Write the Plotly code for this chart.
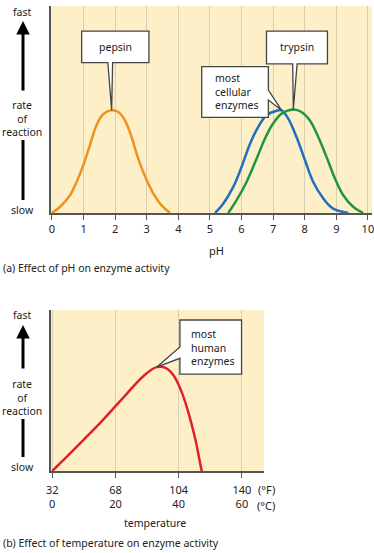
import plotly.graph_objects as go

# ---------------- data ----------------
pepsin_ph   = [0.0, 0.25, 0.57, 0.78, 0.99, 1.20, 1.41, 1.62, 1.89, 2.10, 2.31, 2.52, 2.73, 3.00, 3.21, 3.47, 3.74]
pepsin_rate = [0.0, 0.029, 0.085, 0.150, 0.230, 0.327, 0.424, 0.477, 0.496, 0.488, 0.448, 0.367, 0.263, 0.158, 0.094, 0.037, 0.0]

cell_ph   = [5.16, 5.42, 5.74, 6.00, 6.27, 6.53, 6.79, 7.11, 7.27, 7.48, 7.74, 8.01, 8.27, 8.59, 8.90, 9.38]
cell_rate = [0.0, 0.045, 0.126, 0.222, 0.335, 0.416, 0.472, 0.494, 0.496, 0.456, 0.367, 0.255, 0.150, 0.070, 0.021, 0.0]

trypsin_ph   = [5.58, 5.84, 6.16, 6.48, 6.74, 7.00, 7.27, 7.64, 7.90, 8.16, 8.43, 8.69, 8.96, 9.22, 9.54, 9.85]
trypsin_rate = [0.0, 0.061, 0.150, 0.263, 0.359, 0.432, 0.480, 0.500, 0.488, 0.448, 0.367, 0.271, 0.166, 0.086, 0.029, 0.0]

temp_c    = [0, 4.55, 9.82, 15.1, 19.8, 23.5, 26.7, 29.9, 33.0, 35.7, 38.3, 40.9, 43.0, 45.2, 46.7, 47.3]
temp_rate = [0.0, 0.088, 0.192, 0.298, 0.398, 0.478, 0.548, 0.607, 0.645, 0.642, 0.596, 0.493, 0.369, 0.203, 0.058, 0.0]

ph_ticks = list(range(0, 11))
temp_ticks_c = [0, 20, 40, 60]
temp_ticks_f = [32, 68, 104, 140]

W, H = 374, 553
FONT = "Noto Sans"
AX = "#555555"
GRID = "#d9cfb3"
BG = "#fdf0c9"

def px(x):
    return x / W

def py(y):
    return 1 - y / H

fig = go.Figure()
fig.add_trace(go.Scatter(x=pepsin_ph, y=pepsin_rate, mode="lines", line=dict(color="#f0901e", width=2.5, shape="spline"), xaxis="x", yaxis="y"))
fig.add_trace(go.Scatter(x=cell_ph, y=cell_rate, mode="lines", line=dict(color="#1f6fc0", width=2.5, shape="spline"), xaxis="x", yaxis="y"))
fig.add_trace(go.Scatter(x=trypsin_ph, y=trypsin_rate, mode="lines", line=dict(color="#1e9640", width=2.5, shape="spline"), xaxis="x", yaxis="y"))
fig.add_trace(go.Scatter(x=temp_c, y=temp_rate, mode="lines", line=dict(color="#e2202a", width=2.5, shape="spline"), xaxis="x2", yaxis="y2"))

axis_common = dict(showline=True, linecolor=AX, linewidth=1.5, ticks="outside", ticklen=5,
                   tickcolor=AX, tickwidth=1.2, showgrid=True, gridcolor=GRID, gridwidth=1,
                   zeroline=False, ticklabeloverflow="allow", automargin=False,
                   tickfont=dict(family=FONT, size=11, color="#222"))
yaxis_common = dict(showline=True, linecolor=AX, linewidth=1.5, showticklabels=False, ticks="",
                    showgrid=False, zeroline=False, range=[0, 1], automargin=False)

fig.update_layout(
    width=W, height=H, margin=dict(l=0, r=0, t=0, b=0, autoexpand=False),
    paper_bgcolor="white", plot_bgcolor=BG, showlegend=False,
    font=dict(family=FONT, size=10.5, color="#222"),
    xaxis=dict(domain=[px(51), px(372)], range=[-0.03, 10.13], tickvals=ph_ticks,
               ticktext=[str(t) for t in ph_ticks], anchor="y", **axis_common),
    yaxis=dict(domain=[py(213), py(6)], anchor="x", **yaxis_common),
    xaxis2=dict(domain=[px(51), px(264)], range=[-0.4, 67.0], tickvals=temp_ticks_c,
                ticktext=[f"{f}<br>{c}" for f, c in zip(temp_ticks_f, temp_ticks_c)],
                ticklabelstandoff=3, anchor="y2", **axis_common),
    yaxis2=dict(domain=[py(471), py(310)], anchor="x2", **yaxis_common),
)

shapes = []
ann = []

def bubble(xref, yref, x0, x1, y0, y1, tail, apex):
    side, a, b = tail
    ax_, ay_ = apex
    if side == "bottom":
        p = f"M{x0},{y0} L{x1},{y0} L{x1},{y1} L{b},{y1} L{ax_},{ay_} L{a},{y1} L{x0},{y1} Z"
    elif side == "right":
        p = f"M{x0},{y0} L{x1},{y0} L{x1},{a} L{ax_},{ay_} L{x1},{b} L{x1},{y1} L{x0},{y1} Z"
    else:
        p = f"M{x0},{y0} L{x1},{y0} L{x1},{y1} L{x0},{y1} L{x0},{b} L{ax_},{ay_} L{x0},{a} Z"
    shapes.append(dict(type="path", path=p, xref=xref, yref=yref, fillcolor="white",
                       line=dict(color="#444", width=1.3), layer="above"))

def peak(xs, ys):
    i = max(range(len(ys)), key=lambda k: ys[k])
    return xs[i], ys[i]

bubble("x", "y", 0.94, 3.07, 0.879, 0.726, ("bottom", 1.77, 1.92), peak(pepsin_ph, pepsin_rate))
bubble("x", "y", 6.79, 8.72, 0.879, 0.72, ("bottom", 7.62, 7.76), peak(trypsin_ph, trypsin_rate))
bubble("x", "y", 4.74, 6.85, 0.707, 0.462, ("right", 0.594, 0.546), peak(cell_ph, cell_rate))
bubble("x2", "y2", 40.4, 59.9, 0.938, 0.602, ("left", 0.77, 0.70), peak(temp_c, temp_rate))

C = dict(showarrow=False, xanchor="center", yanchor="middle")
L = dict(showarrow=False, xanchor="left", yanchor="middle", align="left")

ann.append(dict(x=2.0, y=0.80, xref="x", yref="y", text="pepsin", **C))
ann.append(dict(x=7.76, y=0.80, xref="x", yref="y", text="trypsin", **C))
ann.append(dict(x=5.1, y=0.585, xref="x", yref="y", text="most<br>cellular<br>enzymes", **L))
ann.append(dict(x=43.2, y=0.77, xref="x2", yref="y2", text="most<br>human<br>enzymes", **L))

for fast_y, rate_y, slow_y, tip_y, tail_y, bar0, bar1 in [
        (12, 118, 210, 21, 92, 140, 200),
        (315, 397, 467, 325, 370, 419, 457)]:
    ann.append(dict(x=px(22), y=py(fast_y), xref="paper", yref="paper", text="fast", **C))
    ann.append(dict(x=px(22), y=py(rate_y), xref="paper", yref="paper", text="rate<br>of<br>reaction", **C))
    ann.append(dict(x=px(22), y=py(slow_y), xref="paper", yref="paper", text="slow", **C))
    ann.append(dict(x=px(23), y=py(tip_y), xref="paper", yref="paper", text="", showarrow=True,
                    ax=0, ay=tail_y - tip_y, arrowhead=2, arrowsize=0.9, arrowwidth=3, arrowcolor="black"))
    shapes.append(dict(type="line", xref="paper", yref="paper", x0=px(23), x1=px(23), y0=py(bar0), y1=py(bar1),
                       line=dict(color="black", width=3)))

ann.append(dict(x=px(216), y=py(250), xref="paper", yref="paper", text="pH", font=dict(size=11), **C))
ann.append(dict(x=px(1), y=py(268), xref="paper", yref="paper", text="(a) Effect of pH on enzyme activity", **L))
ann.append(dict(x=px(266), y=py(490), xref="paper", yref="paper", text="(°F)", font=dict(size=11), **C))
ann.append(dict(x=px(266), y=py(505), xref="paper", yref="paper", text="(°C)", font=dict(size=11), **C))
ann.append(dict(x=px(155), y=py(523), xref="paper", yref="paper", text="temperature", **C))
ann.append(dict(x=px(1), y=py(543), xref="paper", yref="paper", text="(b) Effect of temperature on enzyme activity", **L))

fig.update_layout(shapes=shapes, annotations=ann)
fig.write_html("out.html", config={"displayModeBar": False},
               post_script="document.body.style.margin='0';document.body.style.overflow='hidden';")
